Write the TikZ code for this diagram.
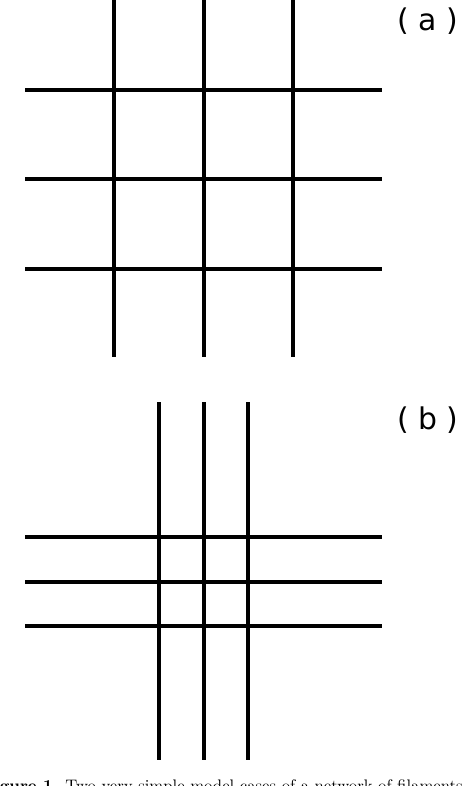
\documentclass[tikz,border=0pt]{standalone}
\usepackage{fontspec}
\newfontfamily\labelfont{DejaVu Sans}
\tikzset{
    filament/.style={line width=2pt},
    panellabel/.style={font=\labelfont\fontsize{17}{19}\selectfont, inner sep=0pt}
}
\begin{document}
\begin{tikzpicture}[x=0.02cm,y=-0.02cm]
        \useasboundingbox (0,0) rectangle (474,786);
        % (a) evenly spaced network
        \draw[filament] (114,0) -- (114,357);
        \draw[filament] (204,0) -- (204,357);
        \draw[filament] (293,0) -- (293,357);
        \draw[filament] (25,90) -- (382,90);
        \draw[filament] (25,179) -- (382,179);
        \draw[filament] (25,269) -- (382,269);
        \node[panellabel] (labela) at (428,21) {( a )};
        % (b) bundled network
        \draw[filament] (159,402) -- (159,760);
        \draw[filament] (204,402) -- (204,760);
        \draw[filament] (248,402) -- (248,760);
        \draw[filament] (25,537) -- (382,537);
        \draw[filament] (25,582) -- (382,582);
        \draw[filament] (25,626) -- (382,626);
        \node[panellabel] (labelb) at (428,420) {( b )};
        % caption, cut off by the page
        \node[anchor=base west, inner sep=0pt, font=\fontsize{9.5}{11}\selectfont] (caption) at (-18,791)
            {\textbf{Figure 1.} Two very simple model cases of a network of filaments};
    \end{tikzpicture}
\end{document}
